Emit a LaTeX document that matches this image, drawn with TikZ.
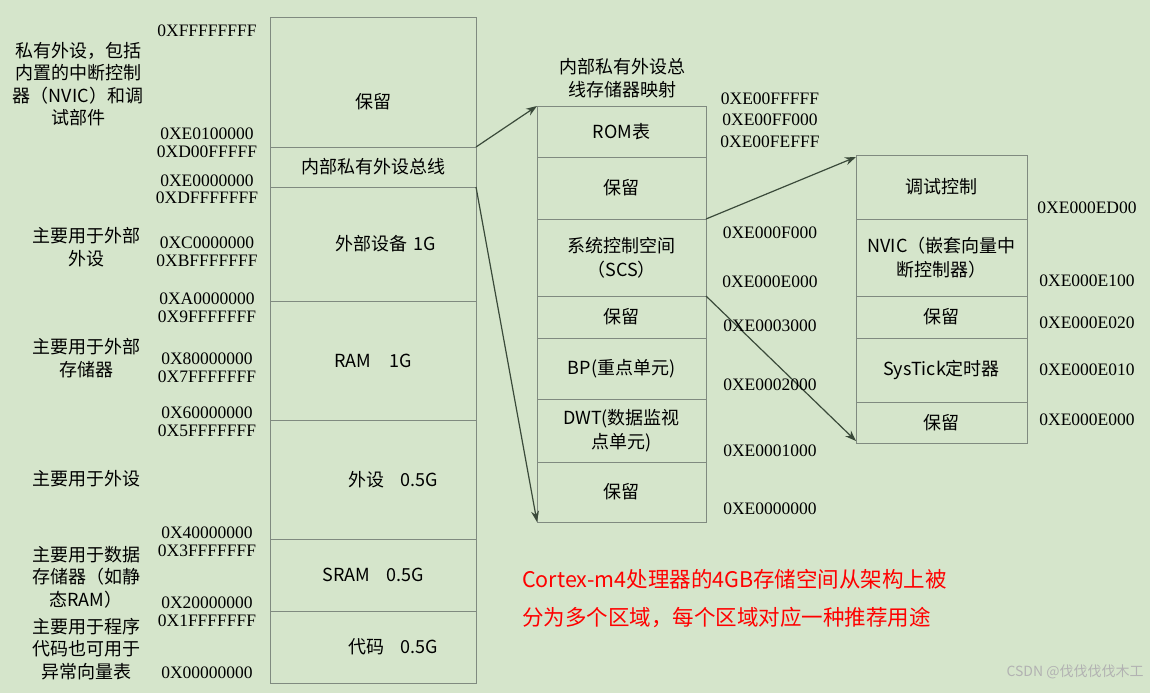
\documentclass[tikz,border=0pt]{standalone}
\usepackage{fontspec}
\setmainfont{Liberation Serif}
\newfontfamily\cjk{Noto Sans CJK SC}
\usetikzlibrary{arrows.meta}
\definecolor{bg}{HTML}{D5E5CB}
\definecolor{ln}{HTML}{808A80}
\definecolor{ar}{HTML}{3A4A3A}
\tikzset{
  cell/.style={draw=ln,line width=0.8pt,minimum width=#1,inner sep=0pt,font=\cjk\fontsize{18}{24}\selectfont,align=center},
  hex/.style={font=\fontsize{17.5}{17}\selectfont,inner sep=0pt},
  desc/.style={font=\cjk\fontsize{18}{22.5}\selectfont,align=center,inner sep=0pt},
  arr/.style={draw=ar,line width=1.2pt,-{Stealth[length=11pt,width=8pt]}}
}
\begin{document}
\begin{tikzpicture}[x=1pt,y=-1pt]
\fill[bg] (0,0) rectangle (1150,693);
\useasboundingbox (0,0) rectangle (1150,693);
\def\cl#1#2#3#4#5#6{\draw[ln,line width=0.8pt] (#1,#3) rectangle (#2,#4); \node[cell=0pt,draw=none] (#5) at ({(#1+#2)/2},{(#3+#4)/2}) {#6};}
\draw[ln,line width=0.8pt] (270,17) rectangle (476,147); \node[cell=0pt,draw=none] (m1) at (373,102) {保留};
\cl{270}{476}{147}{187}{m2}{内部私有外设总线}
\cl{270}{476}{187}{301}{m3}{\hspace*{26pt}外部设备\hspace{6pt}1G}
\cl{270}{476}{301}{420}{m4}{RAM\hspace{18pt}1G}
\cl{270}{476}{420}{539}{m5}{\hspace*{40pt}外设\hspace{16pt}0.5G}
\cl{270}{476}{539}{611}{m6}{SRAM\hspace{16pt}0.5G}
\cl{270}{476}{611}{683}{m7}{\hspace*{40pt}代码\hspace{16pt}0.5G}
\cl{537}{706}{106}{157}{p1}{ROM表}
\cl{537}{706}{157}{219}{p2}{保留}
\cl{537}{706}{219}{296}{p3}{系统控制空间\\（SCS）}
\cl{537}{706}{296}{338}{p4}{保留}
\cl{537}{706}{338}{399}{p5}{BP(重点单元)}
\cl{537}{706}{399}{462}{p6}{DWT(数据监视\\点单元)}
\cl{537}{706}{462}{522}{p7}{保留}
\cl{856}{1027}{155}{219}{r1}{调试控制}
\cl{856}{1027}{219}{296}{r2}{NVIC（嵌套向量中\\断控制器）}
\cl{856}{1027}{296}{338}{r3}{保留}
\cl{856}{1027}{338}{402}{r4}{SysTick定时器}
\cl{856}{1027}{402}{443}{r5}{保留}
\coordinate (a1) at (476,147); \coordinate (b1) at (537,106);
\coordinate (a2) at (476,187); \coordinate (b2) at (537,522);
\coordinate (a3) at (706,219); \coordinate (b3) at (856,157);
\coordinate (a4) at (706,296); \coordinate (b4) at (856,441);
\draw[arr] (a1) -- (b1);
\draw[arr] (a2) -- (b2);
\draw[arr] (a3) -- (b3);
\draw[arr] (a4) -- (b4);
\foreach \t/\y [count=\i] in {0XFFFFFFFF/31,0XE0100000/134,0XD00FFFFF/152,0XE0000000/181,0XDFFFFFFF/198,0XC0000000/243,0XBFFFFFFF/261,0XA0000000/299,0X9FFFFFFF/317,0X80000000/359,0X7FFFFFFF/377,0X60000000/413,0X5FFFFFFF/431,0X40000000/533,0X3FFFFFFF/551,0X20000000/603,0X1FFFFFFF/621,0X00000000/673}
  \node[hex] (lh\i) at (207,\y) {\t};
\foreach \t/\y [count=\i] in {0XE00FFFFF/99,0XE00FF000/120,0XE00FEFFF/142,0XE000F000/233,0XE000E000/282,0XE0003000/326,0XE0002000/385,0XE0001000/451,0XE0000000/509}
  \node[hex] (mh\i) at (770,\y) {\t};
\foreach \t/\y [count=\i] in {0XE000ED00/208,0XE000E100/281,0XE000E020/323,0XE000E010/370,0XE000E000/420}
  \node[hex] (rh\i) at (1087,\y) {\t};
\node[desc] (d1) at (78,84) {私有外设，包括\\内置的中断控制\\器（NVIC）和调\\试部件};
\node[desc] (d2) at (86,247) {主要用于外部\\外设};
\node[desc] (d3) at (86,358) {主要用于外部\\存储器};
\node[desc] (d4) at (86,479) {主要用于外设};
\node[desc] (d5) at (86,577) {主要用于数据\\存储器（如静\\态RAM）};
\node[desc] (d6) at (86,649) {主要用于程序\\代码也可用于\\异常向量表};
\node[desc] (t1) at (622,78) {内部私有外设总\\线存储器映射};
\node[font=\cjk\fontsize{21.5}{38}\selectfont,text=red,align=left,anchor=west,inner sep=0pt] (red) at (522,599) {Cortex-m4处理器的4GB存储空间从架构上被\\分为多个区域，每个区域对应一种推荐用途};
\node[font=\cjk\fontsize{14}{14}\selectfont,text=gray!60!white,inner sep=0pt] (wm) at (1075,672) {CSDN @伐伐伐伐木工};
\end{tikzpicture}
\end{document}
